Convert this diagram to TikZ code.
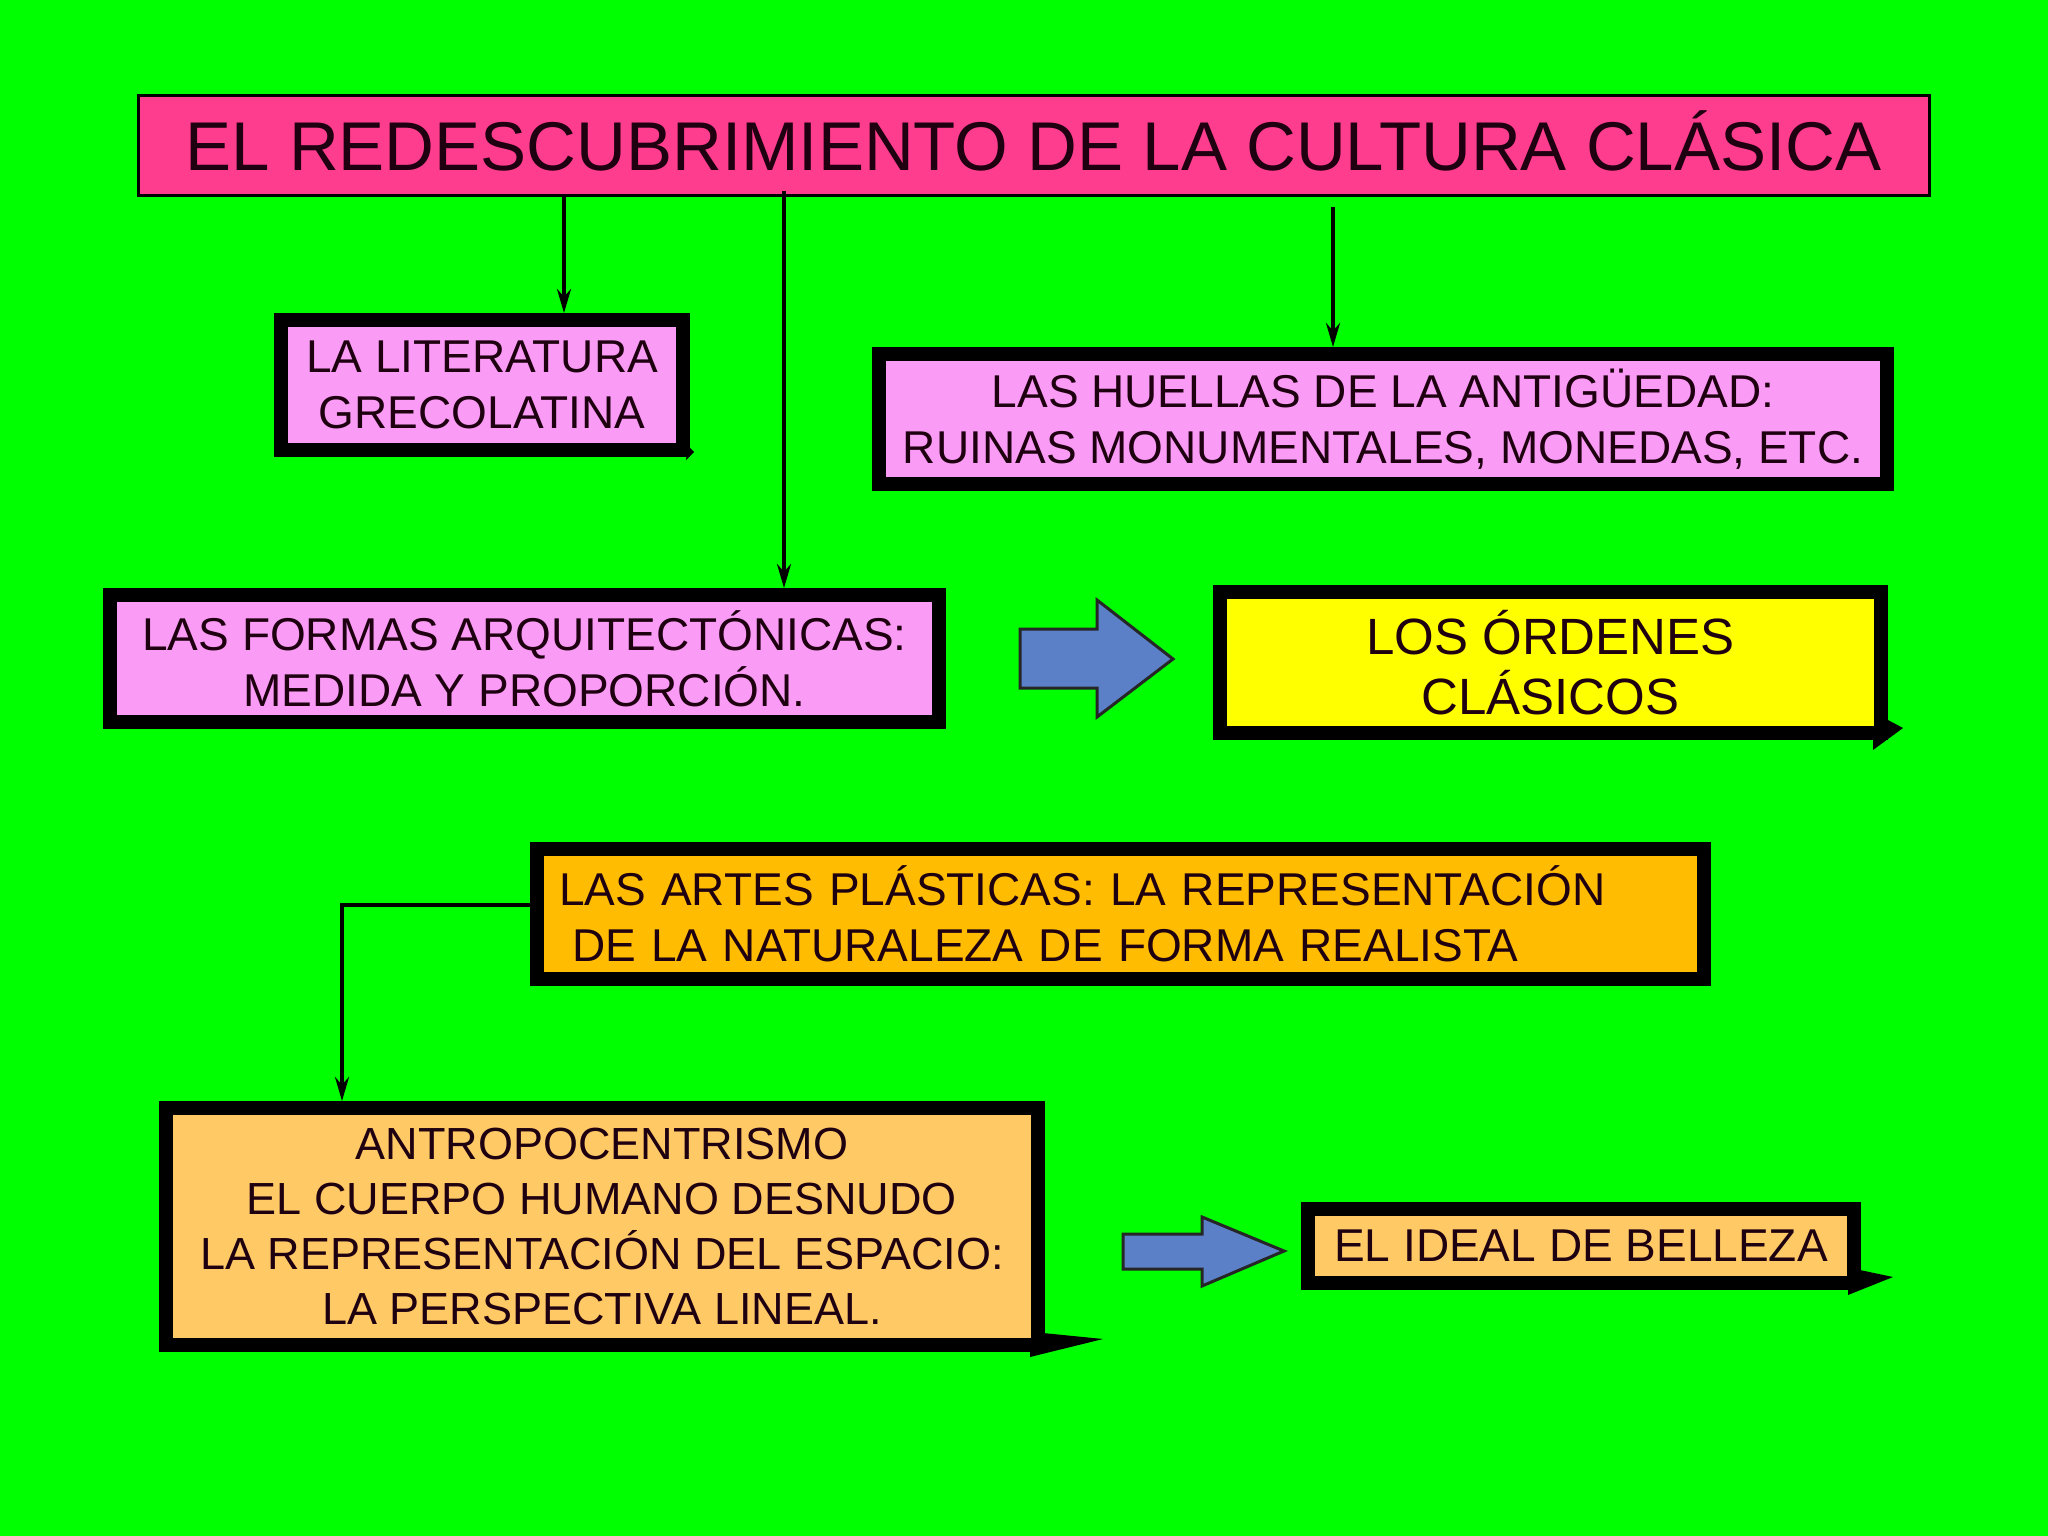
\documentclass[tikz,border=0pt]{standalone}
\usepackage{fontspec}
\setmainfont{Liberation Sans}
\usetikzlibrary{arrows.meta}
\definecolor{bggreen}{HTML}{00FF00}
\definecolor{titlepink}{HTML}{FF3D8E}
\definecolor{lightpink}{HTML}{FA9CF5}
\definecolor{yell}{HTML}{FFFF00}
\definecolor{orng}{HTML}{FFBC00}
\definecolor{lorng}{HTML}{FFC966}
\definecolor{bluearr}{HTML}{5B80C8}
\definecolor{txt}{HTML}{1E0010}
\tikzset{
  frm/.style={draw=black, line width=14pt, inner sep=0pt, align=center, text=txt,
    font=\fontsize{46}{56}\selectfont},
  tail/.style={fill=black, draw=none},
  arr/.style={draw=black, line width=3.5pt, -{Stealth[length=24pt,width=14pt]}},
  blk/.style={fill=bluearr, draw=black!85, line width=3pt, line join=miter},
}
\begin{document}
\begin{tikzpicture}[x=1pt,y=-1pt]
\useasboundingbox (0,0) rectangle (2048,1536);
\fill[bggreen] (0,0) rectangle (2048,1536);

% title
\node[draw=black, line width=3pt, fill=titlepink, text=txt, inner sep=0pt,
  text height=50pt, text depth=0pt,
  minimum width=1791, minimum height=99, font=\fontsize{69}{72}\selectfont]
  (title) at (1033.5,145.5) {EL REDESCUBRIMIENTO DE LA CULTURA CLÁSICA};

% boxes
\node[frm, fill=lightpink, minimum width=402, minimum height=130] (lit) at (482,385)
  {LA LITERATURA\\GRECOLATINA};
\node[frm, fill=lightpink, minimum width=1008, minimum height=130] (hue) at (1383,419)
  {LAS HUELLAS DE LA ANTIGÜEDAD:\\RUINAS MONUMENTALES, MONEDAS, ETC.};
\node[frm, fill=lightpink, minimum width=829, minimum height=127] (for) at (524.5,658.5)
  {LAS FORMAS ARQUITECTÓNICAS:\\MEDIDA Y PROPORCIÓN.};
\node[frm, fill=yell, minimum width=661, minimum height=141,
  font=\fontsize{51}{60}\selectfont] (ord) at (1550.5,662.5)
  {LOS ÓRDENES\\CLÁSICOS};
\node[frm, fill=orng, minimum width=1167, minimum height=130, text width=1123,
  align=left] (art) at (1120.5,914)
  {LAS ARTES PLÁSTICAS: LA REPRESENTACIÓN\\\hspace*{13pt}DE LA NATURALEZA DE FORMA REALISTA};
\node[frm, fill=lorng, minimum width=872, minimum height=237,
  font=\fontsize{45}{54.7}\selectfont] (ant) at (602,1226.5)
  {ANTROPOCENTRISMO\\EL CUERPO HUMANO DESNUDO\\LA REPRESENTACIÓN DEL ESPACIO:\\LA PERSPECTIVA LINEAL.};
\node[frm, fill=lorng, minimum width=546, minimum height=74] (ide) at (1581,1246)
  {EL IDEAL DE BELLEZA};

% shadow tails
\fill[tail] (1886,719) -- (1903,728) -- (1873,750) -- (1873,737) -- cycle;
\fill[tail] (1043,1333) -- (1103,1339) -- (1030,1357) -- (1030,1350) -- cycle;
\fill[tail] (1860,1270) -- (1893,1277) -- (1848,1295) -- (1848,1288) -- cycle;
\fill[tail] (688,446) -- (694,452) -- (686,460) -- cycle;

% connectors
\coordinate (c1) at (564,0);
\coordinate (c2) at (784,0);
\coordinate (c3) at (1333,0);
\coordinate (c4) at (342,0);
\draw[arr] (title.south -| c1) -- (lit.north -| c1);
\draw[arr] ([yshift=6pt]title.south -| c2) -- (for.north -| c2);
\draw[arr] ([yshift=-10pt]title.south -| c3) -- (hue.north -| c3);
\draw[arr] ([yshift=9pt]art.west) -| (ant.north -| c4);

% block arrows
\draw[blk] (1020,629) -- (1097,629) -- (1097,600) -- (1173,659) -- (1097,717)
  -- (1097,688) -- (1020,688) -- cycle;
\draw[blk] (1123,1234) -- (1202,1234) -- (1202,1217) -- (1284,1251) -- (1202,1286)
  -- (1202,1269) -- (1123,1269) -- cycle;
\end{tikzpicture}
\end{document}
